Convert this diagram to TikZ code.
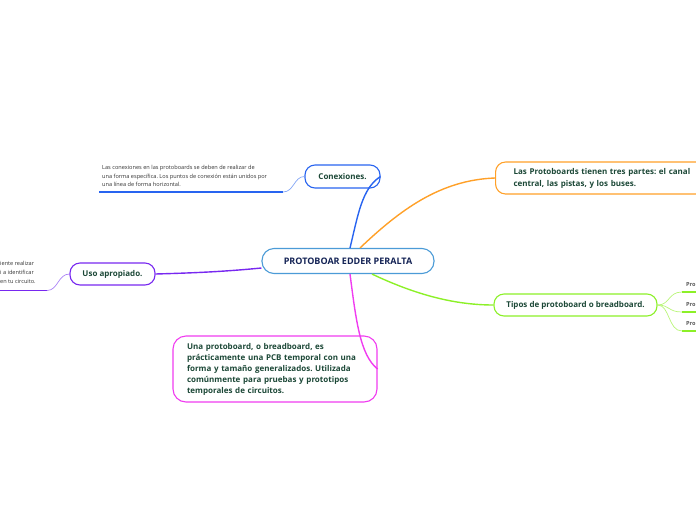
\documentclass[tikz,border=0pt]{standalone}
\usepackage{fontspec}
\setmainfont{Open Sans}
\usetikzlibrary{positioning}
\frenchspacing
\definecolor{rootblue}{RGB}{75,155,215}
\definecolor{navy}{RGB}{20,35,85}
\definecolor{darkgreen}{RGB}{28,72,55}
\definecolor{conblue}{RGB}{40,100,240}
\definecolor{conlight}{RGB}{130,165,245}
\definecolor{usopurple}{RGB}{120,40,240}
\definecolor{usolight}{RGB}{170,130,245}
\definecolor{partorange}{RGB}{255,160,40}
\definecolor{tipogreen}{RGB}{140,240,40}
\definecolor{tipolight}{RGB}{185,245,120}
\definecolor{defmagenta}{RGB}{240,60,240}

\tikzset{
 topic/.style={draw,rounded corners=10pt,line width=1.1pt,fill=white,
  font=\fontsize{8}{11}\selectfont\bfseries,text=darkgreen,inner sep=0pt},
 branch/.style={line width=1.4pt},
 twig/.style={line width=0.7pt},
 underl/.style={line width=1.6pt},
 note/.style={font=\fontsize{5.6}{8.8}\selectfont,text=black!80,align=left,inner sep=0pt},
}

\begin{document}
\begin{tikzpicture}[x=1pt,y=-1pt]
\useasboundingbox (0,0) rectangle (696,520);
\clip (0,0) rectangle (696,520);
\path
(348,261) node [topic,draw=rootblue,text=navy,minimum width=172,minimum height=25,
  rounded corners=12pt,font=\fontsize{9}{11}\selectfont\bfseries](root) {PROTOBOAR EDDER PERALTA}
(342.5,176.5) node [topic,draw=conblue,minimum width=75,minimum height=23](con) {Conexiones.}
(112.5,274) node [topic,draw=usopurple,minimum width=85,minimum height=22](uso) {Uso apropiado.}
(495,178) node [topic,draw=partorange,anchor=west,align=left,text width=200,
  inner xsep=18,minimum height=32,font=\fontsize{8}{12}\selectfont\bfseries](partes)
  {Las Protoboards tienen tres partes: el canal\\central, las pistas, y los buses.}
(575.5,305) node [topic,draw=tipogreen,minimum width=163,minimum height=22](tipos) {Tipos de protoboard o breadboard.}
(275,369) node [topic,draw=defmagenta,align=left,text width=176,minimum width=204,
  minimum height=66,rounded corners=13pt](def)
  {Una protoboard, o breadboard, es\\prácticamente una PCB temporal con una\\forma y tamaño generalizados. Utilizada\\comúnmente para pruebas y prototipos\\temporales de circuitos.};
% hojas
\node [note,anchor=west](conleaf) at (102,176)
  {Las conexiones en las protoboards se deben de realizar de\\una forma específica. Los puntos de conexión están unidos por\\una línea de forma horizontal.};
\node [note,anchor=west](usoleaf) at (0,272.5) {iente realizar\\i a identificar\\en tu circuito.};
\coordinate (conu) at (99,192);
\coordinate (conv) at (283,192);
\coordinate (usou) at (-5,290.5);
\coordinate (usov) at (47,290.5);
\foreach \n/\y in {1/292,2/312,3/331}{
  \coordinate (pro\n) at (682,\y);
  \coordinate (proe\n) at (700,\y);
  \node [note,anchor=west,text=black!65,font=\fontsize{5.6}{7}\selectfont\bfseries](prol\n) at (686,\y-7) {Pro};
}
% ramas
\draw [branch,conblue] ([xshift=2]root.north) .. controls (358,215) and (362,188) .. (con.east);
\draw [branch,partorange] ([xshift=12]root.north) .. controls (400,210) and (440,180) .. (partes.west);
\draw [branch,tipogreen] ([xshift=24]root.south) .. controls (410,292) and (450,305) .. (tipos.west);
\draw [branch,usopurple] ([yshift=-7]root.west) .. controls (220,272) and (190,273) .. (uso.east);
\draw [branch,defmagenta] ([xshift=2]root.south) .. controls (356,320) and (360,355) .. (def.east);
% subramas
\draw [underl,conblue] (conu) -- (conv);
\draw [twig,conlight] (conv) .. controls (294,192) and (294,176.5) .. (con.west);
\draw [underl,usopurple] (usou) -- (usov);
\draw [twig,usolight] (usov) .. controls (58,290.5) and (58,274) .. (uso.west);
\draw [twig,tipolight] (tipos.east) .. controls (670,305) and (668,292) .. (pro1);
\draw [twig,tipolight] (tipos.east) .. controls (670,305) and (668,312) .. (pro2);
\draw [twig,tipolight] (tipos.east) .. controls (670,305) and (668,331) .. (pro3);
\foreach \n in {1,2,3}{
  \draw [underl,tipogreen] (pro\n) -- (proe\n);
}
\end{tikzpicture}
\end{document}
